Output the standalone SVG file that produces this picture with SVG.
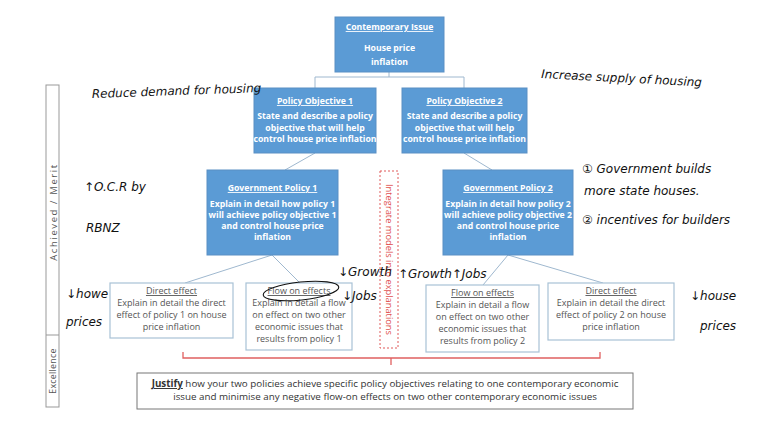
<svg xmlns="http://www.w3.org/2000/svg" width="768" height="433" viewBox="0 0 768 433">
<style>
.blue{fill:#5b9bd5;stroke:#5a8fc4;stroke-width:1}
.bt{font-family:"Open Sans","Liberation Sans",sans-serif;font-weight:bold;fill:#fff;text-anchor:middle;font-size:8.7px}
.ttl{text-decoration:underline}
.eff{fill:#fff;stroke:#a8c2d6;stroke-width:1.2}
.et{font-family:"Open Sans","Liberation Sans",sans-serif;fill:#555;text-anchor:middle;font-size:9px}
.con{stroke:#9fb8cf;stroke-width:1;fill:none}
.hw{font-family:"DejaVu Sans","Liberation Sans",sans-serif;font-style:italic;font-weight:300;fill:#111;font-size:12px}
</style>
<rect width="768" height="433" fill="#fff"/>
<g id="connectors">
<path class="con" d="M389 72 V77 M315 77 H464 M315 77 V88 M464 77 V88"/>
<path class="con" d="M315 153 L285 170 M464 153 L492 170"/>
<path class="con" d="M272 255 L185 283 M272 255 L300 283 M508 255 L483 285 M508 255 L603 283"/>
<path d="M183 352 V358 H600 V352 M391 358 V365" stroke="#e06060" stroke-width="1.3" fill="none"/>
</g>
<g id="band">
<rect x="46" y="85" width="13" height="322" fill="#fff" stroke="#999" stroke-width="1"/>
<line x1="46" y1="335" x2="59" y2="335" stroke="#999"/>
<text transform="translate(56.5,212) rotate(-90)" font-family="Open Sans,Liberation Sans,sans-serif" font-size="9.5" fill="#555" text-anchor="middle" letter-spacing="1.6">Achieved / Merit</text>
<text transform="translate(56,371) rotate(-90)" font-family="Open Sans,Liberation Sans,sans-serif" font-size="8.8" fill="#555" text-anchor="middle" letter-spacing="0.3">Excellence</text>
</g>
<g id="issue">
<rect class="blue" x="335" y="17" width="109" height="55"/>
<text class="bt ttl" x="389.5" y="30" font-size="10.3">Contemporary Issue</text>
<text class="bt" x="389.5" y="51" font-size="11.5">House price</text>
<text class="bt" x="389.5" y="65" font-size="11.5">inflation</text>
</g>
<g id="objective1">
<rect class="blue" x="254" y="88" width="122" height="65"/>
<text class="bt ttl" x="315" y="104">Policy Objective 1</text>
<text class="bt" x="315" y="119">State and describe a policy</text>
<text class="bt" x="315" y="130.5">objective that will help</text>
<text class="bt" x="315" y="142">control house price inflation</text>
</g>
<g id="objective2">
<rect class="blue" x="402" y="88" width="125" height="65"/>
<text class="bt ttl" x="464.5" y="104">Policy Objective 2</text>
<text class="bt" x="464.5" y="119">State and describe a policy</text>
<text class="bt" x="464.5" y="130.5">objective that will help</text>
<text class="bt" x="464.5" y="142">control house price inflation</text>
</g>
<g id="policy1">
<rect class="blue" x="207" y="170" width="131" height="85"/>
<text class="bt ttl" x="272.5" y="191">Government Policy 1</text>
<text class="bt" x="272.5" y="207">Explain in detail how policy 1</text>
<text class="bt" x="272.5" y="218">will achieve policy objective 1</text>
<text class="bt" x="272.5" y="229">and control house price</text>
<text class="bt" x="272.5" y="240">inflation</text>
</g>
<g id="policy2">
<rect class="blue" x="443" y="170" width="130" height="85"/>
<text class="bt ttl" x="508" y="191">Government Policy 2</text>
<text class="bt" x="508" y="207">Explain in detail how policy 2</text>
<text class="bt" x="508" y="218">will achieve policy objective 2</text>
<text class="bt" x="508" y="229">and control house price</text>
<text class="bt" x="508" y="240">inflation</text>
</g>
<g id="integrate">
<rect x="380" y="171" width="18" height="177" fill="#fff" stroke="#e05a5a" stroke-width="1" stroke-dasharray="2,2"/>
<text transform="translate(386,259.5) rotate(90)" font-family="Open Sans,Liberation Sans,sans-serif" font-size="9.3" fill="#e05050" text-anchor="middle">Integrate models into explanations</text>
</g>
<g id="direct1">
<rect class="eff" x="110" y="283" width="123" height="55"/>
<text class="et ttl" x="171.5" y="294">Direct effect</text>
<text class="et" x="171.5" y="306">Explain in detail the direct</text>
<text class="et" x="171.5" y="318">effect of policy 1 on house</text>
<text class="et" x="171.5" y="330">price inflation</text>
</g>
<g id="flow1">
<rect class="eff" x="246" y="283" width="106" height="67"/>
<text class="et ttl" x="299" y="294">Flow on effects</text>
<text class="et" x="299" y="306">Explain in detail a flow</text>
<text class="et" x="299" y="318">on effect on two other</text>
<text class="et" x="299" y="330">economic issues that</text>
<text class="et" x="299" y="342">results from policy 1</text>
</g>
<g id="flow2">
<rect class="eff" x="426" y="285" width="113" height="67"/>
<text class="et ttl" x="482.5" y="296">Flow on effects</text>
<text class="et" x="482.5" y="308">Explain in detail a flow</text>
<text class="et" x="482.5" y="320">on effect on two other</text>
<text class="et" x="482.5" y="332">economic issues that</text>
<text class="et" x="482.5" y="344">results from policy 2</text>
</g>
<g id="direct2">
<rect class="eff" x="548" y="283" width="126" height="57"/>
<text class="et ttl" x="611" y="294">Direct effect</text>
<text class="et" x="611" y="306">Explain in detail the direct</text>
<text class="et" x="611" y="318">effect of policy 2 on house</text>
<text class="et" x="611" y="330">price inflation</text>
</g>
<g id="justify">
<rect x="137" y="373" width="496" height="36" fill="#fff" stroke="#777" stroke-width="1"/>
<text font-family="Open Sans,Liberation Sans,sans-serif" font-size="9.8" fill="#333" text-anchor="middle" x="385" y="387"><tspan font-weight="bold" text-decoration="underline">Justify</tspan> how your two policies achieve specific policy objectives relating to one contemporary economic</text>
<text font-family="Open Sans,Liberation Sans,sans-serif" font-size="9.8" fill="#333" text-anchor="middle" x="385" y="400">issue and minimise any negative flow-on effects on two other contemporary economic issues</text>
</g>
<g id="handwriting">
<text class="hw" x="92" y="98" font-size="14" transform="rotate(-2 92 98)">Reduce demand for housing</text>
<text class="hw" x="541" y="78" font-size="14" transform="rotate(3 541 78)">Increase supply of housing</text>
<text class="hw" x="84" y="191" font-size="16">↑O.C.R  by</text>
<text class="hw" x="86" y="232" font-size="14">RBNZ</text>
<text class="hw" x="582" y="173" font-size="12">① Government  builds</text>
<text class="hw" x="584" y="195" font-size="12">more state houses.</text>
<text class="hw" x="582" y="224" font-size="12">② incentives for builders</text>
<text class="hw" x="66" y="298" font-size="12">↓howe</text>
<text class="hw" x="66" y="326" font-size="12">prices</text>
<text class="hw" x="338" y="276" font-size="12">↓Growth</text>
<text class="hw" x="342" y="300" font-size="12">↓Jobs</text>
<text class="hw" x="398" y="278" font-size="12">↑Growth↑Jobs</text>
<text class="hw" x="690" y="300" font-size="13">↓house</text>
<text class="hw" x="700" y="330" font-size="13">prices</text>
<ellipse cx="301" cy="291" rx="38" ry="9" fill="none" stroke="#111" stroke-width="1.1" transform="rotate(-6 301 291)"/>
</g>
</svg>
